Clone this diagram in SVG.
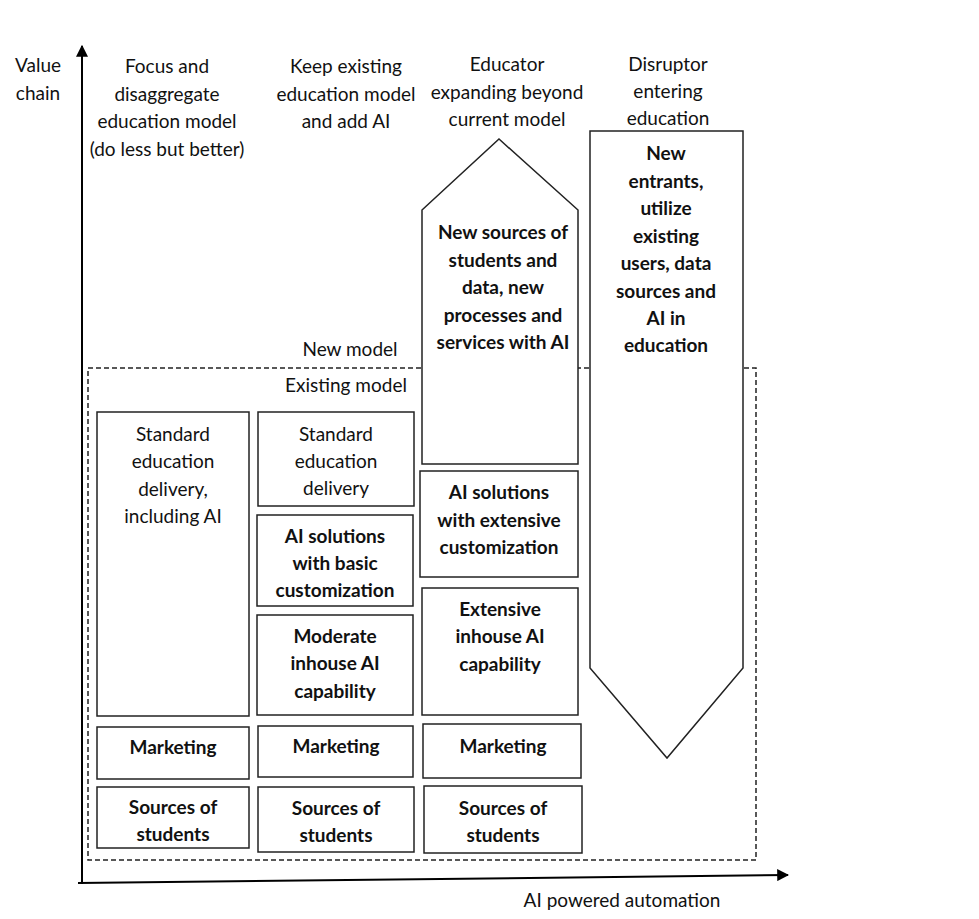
<svg xmlns="http://www.w3.org/2000/svg" width="979" height="919" viewBox="0 0 979 919">
<style>
text{font-family:Lato,"Open Sans","Liberation Sans",sans-serif;font-size:19px;fill:#111;text-anchor:middle}
.b{font-weight:bold}
.box{fill:#fff;stroke:#222;stroke-width:1.5}
.ax{stroke:#000;stroke-width:2;fill:none}
</style>
<defs><marker id="ar" viewBox="0 0 10 10" refX="9" refY="5" markerWidth="6" markerHeight="6" orient="auto"><path d="M0,0L10,5L0,10z" fill="#000"/></marker></defs>
<g id="axes">
<line class="ax" x1="82" y1="884" x2="82" y2="46" marker-end="url(#ar)"/>
<line class="ax" x1="78" y1="883" x2="788" y2="875" marker-end="url(#ar)"/>
<text x="38" y="72">Value</text><text x="38" y="100">chain</text>
<text x="622" y="907">AI powered automation</text>
</g>
<g id="headers">
<text x="167" y="73">Focus and</text><text x="167" y="101">disaggregate</text><text x="167" y="128">education model</text><text x="167" y="156">(do less but better)</text>
<text x="346" y="73">Keep existing</text><text x="346" y="101">education model</text><text x="346" y="128">and add AI</text>
<text x="507" y="71">Educator</text><text x="507" y="99">expanding beyond</text><text x="507" y="126">current model</text>
<text x="668" y="71">Disruptor</text><text x="668" y="98">entering</text><text x="668" y="125">education</text>
</g>
<g id="new-model"><text x="350" y="356">New model</text></g>
<g id="existing-model">
<rect x="88" y="368" width="668" height="492" fill="none" stroke="#222" stroke-width="1.5" stroke-dasharray="5,3"/>
<text x="346" y="392">Existing model</text>
</g>
<g id="col1">
<rect class="box" x="97" y="412" width="152" height="304"/>
<text x="173" y="441">Standard</text><text x="173" y="468">education</text><text x="173" y="496">delivery,</text><text x="173" y="523">including AI</text>
<rect class="box" x="97" y="727" width="152" height="52"/><text class="b" x="173" y="754">Marketing</text>
<rect class="box" x="97" y="787" width="152" height="61"/><text class="b" x="173" y="814">Sources of</text><text class="b" x="173" y="841">students</text>
</g>
<g id="col2">
<rect class="box" x="258" y="412" width="156" height="94"/>
<text x="336" y="441">Standard</text><text x="336" y="468">education</text><text x="336" y="495">delivery</text>
<rect class="box" x="257" y="515" width="156" height="91"/>
<text class="b" x="335" y="543">AI solutions</text><text class="b" x="335" y="570">with basic</text><text class="b" x="335" y="597">customization</text>
<rect class="box" x="257" y="615" width="156" height="100"/>
<text class="b" x="335" y="643">Moderate</text><text class="b" x="335" y="670">inhouse AI</text><text class="b" x="335" y="698">capability</text>
<rect class="box" x="258" y="726" width="155" height="51"/><text class="b" x="336" y="753">Marketing</text>
<rect class="box" x="258" y="787" width="156" height="65"/><text class="b" x="336" y="815">Sources of</text><text class="b" x="336" y="842">students</text>
</g>
<g id="col3">
<polygon class="box" points="422,210 499,139 578,210 578,464 422,464"/>
<text class="b" x="503" y="239">New sources of</text><text class="b" x="503" y="267">students and</text><text class="b" x="503" y="294">data, new</text><text class="b" x="503" y="322">processes and</text><text class="b" x="503" y="349">services with AI</text>
<rect class="box" x="420" y="471" width="158" height="106"/>
<text class="b" x="499" y="499">AI solutions</text><text class="b" x="499" y="527">with extensive</text><text class="b" x="499" y="554">customization</text>
<rect class="box" x="422" y="588" width="156" height="127"/>
<text class="b" x="500" y="616">Extensive</text><text class="b" x="500" y="643">inhouse AI</text><text class="b" x="500" y="671">capability</text>
<rect class="box" x="423" y="724" width="158" height="54"/><text class="b" x="503" y="753">Marketing</text>
<rect class="box" x="424" y="786" width="158" height="67"/><text class="b" x="503" y="815">Sources of</text><text class="b" x="503" y="842">students</text>
</g>
<g id="col4">
<polygon class="box" points="590,131 743,131 743,668 667,758 590,668"/>
<text class="b" x="666" y="160">New</text><text class="b" x="666" y="188">entrants,</text><text class="b" x="666" y="215">utilize</text><text class="b" x="666" y="243">existing</text><text class="b" x="666" y="270">users, data</text><text class="b" x="666" y="298">sources and</text><text class="b" x="666" y="325">AI in</text><text class="b" x="666" y="352">education</text>
</g>
</svg>
